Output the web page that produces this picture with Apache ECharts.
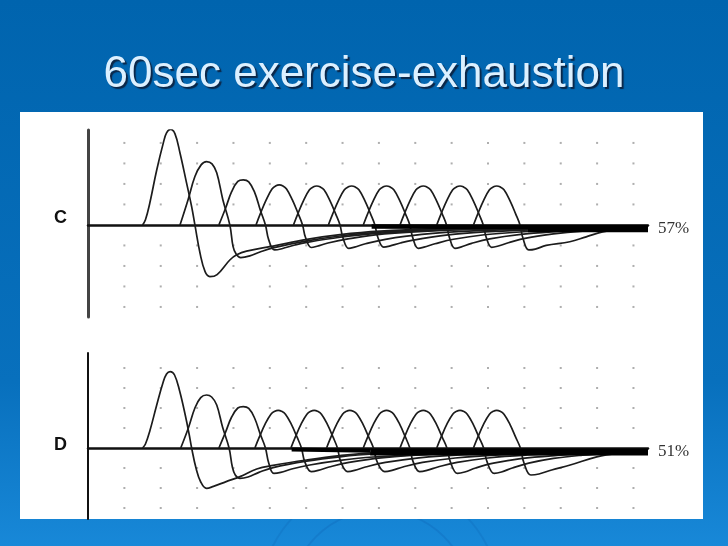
<!DOCTYPE html>
<html>
<head>
<meta charset="utf-8">
<script src="https://cdn.jsdelivr.net/npm/echarts@6/dist/echarts.min.js"></script>
<style>
  html, body { margin: 0; padding: 0; }
  #container { width: 728px; height: 546px; }
</style>
</head>
<body>
<div id="container"></div>
<script>
// dot grid
var gridCols = [0, 1, 2, 3, 4, 5, 6, 7, 8, 9, 10, 11, 12, 13, 14];
var rowsC = [-4, -3, -2, -1, 1, 2, 3, 4];
var rowsD = [-3, -2, -1, 1, 2, 3, 4];
var panelNames = ['C', 'D'];
var endPercents = ['57%', '51%'];

// panel C pulses [time, amplitude]
var c1 = [[0.5,0],[0.58,0.25],[0.7,1.07],[0.89,2.68],[1.07,3.99],[1.16,4.49],[1.27,4.66],[1.39,4.45],[1.53,3.51],[1.71,2.05],[1.85,0.89],[1.94,0],[2.08,-1.37],[2.22,-2.28],[2.35,-2.52],[2.55,-2.42],[2.9,-1.71],[3.09,-1.46],[3.36,-1.28],[4.09,-1.03],[5.02,-0.7],[5.93,-0.47],[7.03,-0.3],[8.68,-0.19],[10.88,-0.13],[13.5,-0.1]];
var c2 = [[1.53,0],[1.75,1.22],[1.94,2.36],[2.11,2.93],[2.26,3.09],[2.41,2.98],[2.54,2.54],[2.71,1.22],[2.9,0],[2.99,-1.06],[3.07,-1.41],[3.2,-1.59],[3.45,-1.51],[3.73,-1.32],[4.09,-1.12],[5.02,-0.78],[5.93,-0.54],[7.03,-0.35],[8.68,-0.22],[10.88,-0.15],[13.5,-0.11]];
var c3 = [[2.6,0],[2.78,0.8],[2.95,1.62],[3.12,2.12],[3.27,2.2],[3.42,2.1],[3.58,1.6],[3.74,0.72],[3.88,0],[3.97,-0.73],[4.13,-1.22],[4.33,-1.16],[4.69,-0.98],[5.02,-0.85],[5.93,-0.6],[7.03,-0.4],[8.68,-0.25],[10.88,-0.17],[13.5,-0.12]];
var c4 = [[3.62,0],[3.74,0.55],[3.9,1.22],[4.06,1.75],[4.17,1.91],[4.26,1.95],[4.35,1.91],[4.46,1.75],[4.62,1.22],[4.78,0.55],[4.9,0],[4.98,-0.6],[5.14,-1.1],[5.3,-1.04],[5.6,-0.88],[6.15,-0.68],[7.15,-0.44],[8.6,-0.28],[10.3,-0.19],[12.4,-0.14],[13.6,-0.12]];
var c5 = [[4.65,0],[4.77,0.54],[4.93,1.2],[5.09,1.71],[5.2,1.86],[5.29,1.9],[5.38,1.86],[5.49,1.71],[5.65,1.2],[5.81,0.54],[5.93,0],[6.01,-0.62],[6.17,-1.14],[6.33,-1.08],[6.63,-0.92],[7.18,-0.7],[8.18,-0.46],[9.6,-0.29],[11.2,-0.2],[12.8,-0.15],[13.7,-0.13]];
var c6 = [[5.61,0],[5.73,0.54],[5.89,1.2],[6.05,1.71],[6.16,1.86],[6.25,1.9],[6.34,1.86],[6.45,1.71],[6.61,1.2],[6.77,0.54],[6.89,0],[6.97,-0.6],[7.13,-1.08],[7.29,-1.03],[7.59,-0.88],[8.14,-0.68],[9.1,-0.45],[10.4,-0.3],[11.8,-0.21],[13.2,-0.16],[13.8,-0.14]];
var c7 = [[6.57,0],[6.69,0.54],[6.85,1.2],[7.01,1.71],[7.12,1.86],[7.21,1.9],[7.3,1.86],[7.41,1.71],[7.57,1.2],[7.73,0.54],[7.85,0],[7.93,-0.62],[8.08,-1.14],[8.24,-1.08],[8.54,-0.92],[9.05,-0.7],[9.9,-0.48],[11.1,-0.32],[12.4,-0.22],[13.4,-0.17],[13.9,-0.15]];
var c8 = [[7.58,0],[7.7,0.54],[7.86,1.2],[8.02,1.71],[8.13,1.86],[8.22,1.9],[8.31,1.86],[8.42,1.71],[8.58,1.2],[8.74,0.54],[8.86,0],[8.94,-0.62],[9.09,-1.14],[9.25,-1.08],[9.55,-0.9],[10.05,-0.68],[10.85,-0.47],[11.9,-0.32],[12.9,-0.23],[13.9,-0.17]];
var c9 = [[8.59,0],[8.71,0.54],[8.87,1.2],[9.03,1.71],[9.14,1.86],[9.23,1.9],[9.32,1.86],[9.43,1.71],[9.59,1.2],[9.75,0.54],[9.87,0],[9.95,-0.6],[10.1,-1.09],[10.26,-1.04],[10.56,-0.87],[11.05,-0.64],[11.8,-0.44],[12.6,-0.3],[13.4,-0.22],[14.0,-0.18]];
var c10 = [[9.6,0],[9.72,0.54],[9.88,1.2],[10.04,1.71],[10.15,1.86],[10.24,1.9],[10.33,1.86],[10.44,1.71],[10.6,1.2],[10.76,0.54],[10.88,0],[10.96,-0.64],[11.12,-1.22],[11.3,-1.18],[11.6,-1.0],[12.25,-0.82],[12.7,-0.58],[13.15,-0.34],[13.7,-0.2],[14.1,-0.17]];

// panel D pulses
var d1 = [[0.5,0],[0.58,0.2],[0.7,0.85],[0.89,2.15],[1.06,3.25],[1.16,3.7],[1.26,3.82],[1.38,3.65],[1.52,2.85],[1.68,1.6],[1.78,0.7],[1.85,0],[1.97,-1.0],[2.1,-1.7],[2.26,-2.02],[2.45,-1.92],[2.8,-1.68],[3.18,-1.43],[3.64,-1.05],[4.09,-0.87],[5.01,-0.6],[5.93,-0.38],[6.84,-0.24],[8.5,-0.16],[10.5,-0.12],[13.5,-0.1]];
var d2 = [[1.55,0],[1.76,1.0],[1.94,2.0],[2.1,2.52],[2.26,2.65],[2.4,2.55],[2.54,2.15],[2.7,1.05],[2.88,0],[2.97,-0.95],[3.05,-1.35],[3.18,-1.52],[3.4,-1.45],[3.7,-1.22],[4.09,-0.98],[5.01,-0.66],[5.93,-0.44],[6.84,-0.3],[8.5,-0.2],[10.5,-0.15],[13.5,-0.12]];
var d3 = [[2.6,0],[2.78,0.78],[2.95,1.55],[3.12,2.0],[3.27,2.07],[3.42,1.98],[3.58,1.5],[3.74,0.68],[3.88,0],[3.97,-0.75],[4.11,-1.27],[4.3,-1.22],[4.6,-1.05],[5.1,-0.85],[5.93,-0.62],[6.84,-0.45],[8.5,-0.3],[10.5,-0.2],[13.5,-0.14]];
var d4 = [[3.59,0],[3.71,0.54],[3.87,1.19],[4.03,1.69],[4.14,1.84],[4.23,1.88],[4.32,1.84],[4.43,1.69],[4.59,1.19],[4.75,0.54],[4.87,0],[4.96,-0.68],[5.14,-1.18],[5.33,-1.12],[5.63,-0.95],[6.18,-0.72],[7.13,-0.48],[8.5,-0.31],[10.2,-0.22],[12.3,-0.17],[13.7,-0.15]];
var d5 = [[4.58,0],[4.7,0.54],[4.86,1.19],[5.02,1.69],[5.13,1.84],[5.22,1.88],[5.31,1.84],[5.42,1.69],[5.58,1.19],[5.74,0.54],[5.86,0],[5.95,-0.68],[6.14,-1.18],[6.33,-1.12],[6.63,-0.95],[7.18,-0.72],[8.1,-0.49],[9.4,-0.33],[11.0,-0.23],[12.8,-0.18],[13.8,-0.16]];
var d6 = [[5.56,0],[5.68,0.54],[5.84,1.19],[6.0,1.69],[6.11,1.84],[6.2,1.88],[6.29,1.84],[6.4,1.69],[6.56,1.19],[6.72,0.54],[6.85,0],[6.95,-0.68],[7.16,-1.18],[7.36,-1.12],[7.66,-0.95],[8.2,-0.72],[9.1,-0.5],[10.3,-0.34],[11.7,-0.25],[13.1,-0.19],[13.9,-0.17]];
var d7 = [[6.57,0],[6.69,0.54],[6.85,1.19],[7.01,1.69],[7.12,1.84],[7.21,1.88],[7.3,1.84],[7.41,1.69],[7.57,1.19],[7.73,0.54],[7.85,0],[7.94,-0.68],[8.12,-1.18],[8.32,-1.12],[8.62,-0.95],[9.15,-0.72],[10.0,-0.5],[11.1,-0.35],[12.3,-0.26],[13.4,-0.2],[14.0,-0.18]];
var d8 = [[7.58,0],[7.7,0.54],[7.86,1.19],[8.02,1.69],[8.13,1.84],[8.22,1.88],[8.31,1.84],[8.42,1.69],[8.58,1.19],[8.74,0.54],[8.87,0],[8.97,-0.72],[9.16,-1.27],[9.36,-1.2],[9.66,-1.0],[10.15,-0.76],[10.9,-0.53],[11.9,-0.37],[12.9,-0.27],[14.0,-0.2]];
var d9 = [[8.59,0],[8.71,0.54],[8.87,1.19],[9.03,1.69],[9.14,1.84],[9.23,1.88],[9.32,1.84],[9.43,1.69],[9.59,1.19],[9.75,0.54],[9.88,0],[9.98,-0.72],[10.17,-1.27],[10.37,-1.2],[10.67,-1.0],[11.12,-0.76],[11.8,-0.52],[12.6,-0.36],[13.4,-0.26],[14.05,-0.21]];
var d10 = [[9.6,0],[9.72,0.54],[9.88,1.19],[10.04,1.69],[10.15,1.84],[10.24,1.88],[10.33,1.84],[10.44,1.69],[10.6,1.19],[10.76,0.54],[10.89,0],[10.99,-0.75],[11.18,-1.35],[11.4,-1.3],[11.75,-1.1],[12.26,-0.85],[12.99,-0.44],[13.6,-0.26],[14.1,-0.21]];

// heavy converged traces near the baseline
var bandC1 = [[6.8,-0.08],[11.1,-0.1]];
var bandC2 = [[11.1,-0.17],[14.4,-0.17]];
var bandD1 = [[4.6,-0.08],[6.76,-0.14]];
var bandD2 = [[6.76,-0.2],[14.4,-0.2]];

var pulsesC = [c1, c2, c3, c4, c5, c6, c7, c8, c9, c10];
var pulsesD = [d1, d2, d3, d4, d5, d6, d7, d8, d9, d10];

function dotGrid(rows) {
    var pts = [];
    rows.forEach(function (r) {
        gridCols.forEach(function (c) { pts.push([c, r]); });
    });
    return pts;
}

var chart = echarts.init(document.getElementById('container'), null, { renderer: 'canvas' });

var series = [];

[rowsC, rowsD].forEach(function (rows, i) {
    series.push({
        type: 'scatter',
        xAxisIndex: i, yAxisIndex: i,
        data: dotGrid(rows),
        symbol: 'rect',
        symbolSize: 2,
        itemStyle: { color: '#9a9a9a' },
        silent: true
    });
});

[pulsesC, pulsesD].forEach(function (pulses, i) {
    pulses.forEach(function (p) {
        series.push({
            type: 'line',
            xAxisIndex: i, yAxisIndex: i,
            data: p,
            showSymbol: false,
            smooth: 0.4,
            lineStyle: { color: '#1c1c1c', width: 1.7 },
            silent: true
        });
    });
});

function band(data, idx, width, label) {
    return {
        type: 'line',
        xAxisIndex: idx, yAxisIndex: idx,
        data: data,
        showSymbol: false,
        lineStyle: { color: '#000', width: width, cap: 'butt' },
        endLabel: label ? {
            show: true,
            formatter: label,
            distance: 10,
            color: '#333',
            fontFamily: 'Liberation Serif',
            fontSize: 17
        } : { show: false },
        silent: true
    };
}
series.push(band(bandC1, 0, 4.5));
series.push(band(bandC2, 0, 7.5, endPercents[0]));
series.push(band(bandD1, 1, 4));
series.push(band(bandD2, 1, 7, endPercents[1]));

var option = {
    animation: false,
    backgroundColor: {
        type: 'linear', x: 0, y: 0, x2: 0, y2: 1,
        colorStops: [
            { offset: 0, color: '#0064ae' },
            { offset: 0.7, color: '#0870bd' },
            { offset: 1, color: '#1888d8' }
        ]
    },
    title: {
        text: '60sec exercise-exhaustion',
        left: 'center',
        top: 48,
        textStyle: {
            color: '#dcf0ff',
            fontFamily: 'Liberation Sans',
            fontWeight: 'normal',
            fontSize: 44,
            textShadowColor: '#0b2748',
            textShadowOffsetX: 2,
            textShadowOffsetY: 2,
            textShadowBlur: 1
        }
    },
    graphic: [
        { type: 'circle', z: -20, shape: { cx: 380, cy: 600, r: 90 }, style: { fill: null, stroke: 'rgba(0,50,130,0.12)', lineWidth: 2 } },
        { type: 'circle', z: -20, shape: { cx: 380, cy: 600, r: 120 }, style: { fill: null, stroke: 'rgba(0,50,130,0.1)', lineWidth: 2 } },
        { type: 'rect', z: -10, shape: { x: 20, y: 112, width: 683, height: 407 }, style: { fill: '#ffffff' } },
        { type: 'text', z: 10, left: 54, top: 209, style: { text: panelNames[0], font: 'bold 18px "Liberation Sans"', fill: '#111' } },
        { type: 'text', z: 10, left: 54, top: 436, style: { text: panelNames[1], font: 'bold 18px "Liberation Sans"', fill: '#111' } }
    ],
    grid: [
        { left: 88, right: 80, top: 130, height: 187 },
        { left: 88, right: 80, top: 353, height: 166 }
    ],
    xAxis: [0, 1].map(function (i) {
        return {
            type: 'value', gridIndex: i, min: -1, max: 14.4,
            axisLine: { show: true, onZero: true, lineStyle: { color: '#111', width: 2.5 } },
            axisTick: { show: false }, axisLabel: { show: false }, splitLine: { show: false }
        };
    }),
    yAxis: [
        {
            type: 'value', gridIndex: 0, min: -4.49, max: 4.63,
            axisLine: { show: true, onZero: false, lineStyle: { color: '#444', width: 3 } },
            axisTick: { show: false }, axisLabel: { show: false }, splitLine: { show: false }
        },
        {
            type: 'value', gridIndex: 1, min: -3.55, max: 4.75,
            axisLine: { show: true, onZero: false, lineStyle: { color: '#111', width: 2 } },
            axisTick: { show: false }, axisLabel: { show: false }, splitLine: { show: false }
        }
    ],
    series: series
};

chart.setOption(option);
</script>
</body>
</html>
